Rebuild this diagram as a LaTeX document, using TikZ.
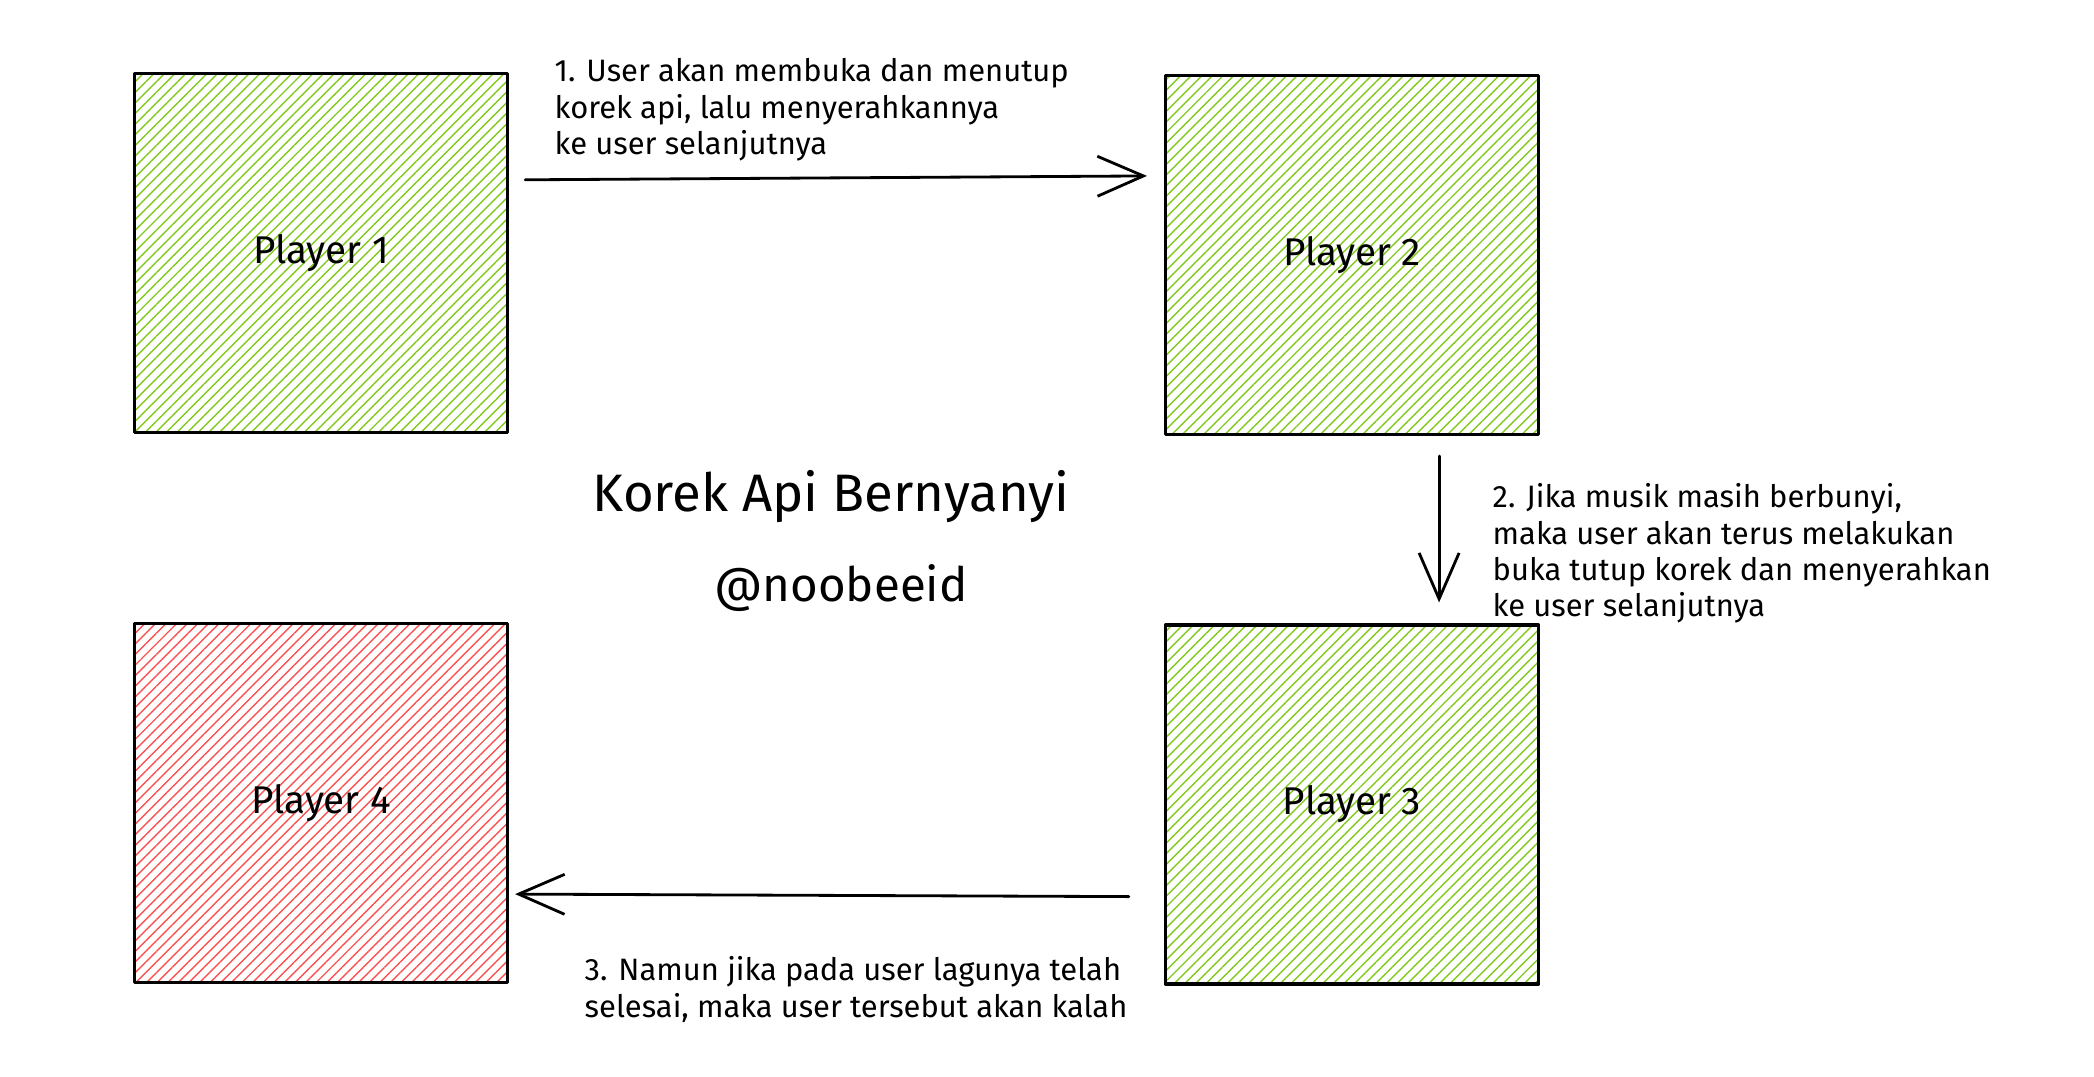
\documentclass[tikz,border=0pt]{standalone}
\usepackage{fontspec}
\setmainfont{Fira Sans}
\usetikzlibrary{arrows.meta,patterns.meta}
\definecolor{hachgreen}{HTML}{82C91E}
\definecolor{hachred}{HTML}{FA5252}
\begin{document}
\begin{tikzpicture}[line join=round, line cap=round,
	player/.style={draw=black, line width=0.9pt, minimum width=3.73cm, minimum height=3.59cm, inner sep=0pt, font=\fontsize{11pt}{13pt}\selectfont},
	safe/.style={pattern={Lines[angle=45,distance=0.075cm,line width=0.4pt]}, pattern color=hachgreen},
	lost/.style={pattern={Lines[angle=45,distance=0.075cm,line width=0.4pt]}, pattern color=hachred},
	note/.style={anchor=north west, align=left, inner sep=0pt, font=\fontsize{8.8pt}{10.3pt}\selectfont},
	flow/.style={line width=0.8pt, -{Straight Barb[length=4.6mm, width=4mm, line width=0.8pt]}}]
	\useasboundingbox (0,0) rectangle (20.94,-10.76);
	% the four players
	\node[player, safe] (p1) at (3.21,-2.53) {Player 1};
	\node[player, safe] (p2) at (13.52,-2.55) {Player 2};
	\node[player, safe] (p3) at (13.52,-8.045) {Player 3};
	\node[player, lost] (p4) at (3.21,-8.03) {Player 4};
	% title
	\node[font=\fontsize{15pt}{18pt}\selectfont] (title) at (8.31,-4.97) {Korek Api Bernyanyi};
	\node[font=\fontsize{13.5pt}{16pt}\selectfont] (author) at (8.41,-5.88) {@noobeeid};
	% steps
	\draw[flow] ([shift={(0.17,-1.07)}]p1.north east) -- ([shift={(-0.17,-1.02)}]p2.north west);
	\draw[flow] ([shift={(-1.01,-0.20)}]p2.south east) -- ([shift={(-1.01,0.21)}]p3.north east);
	\draw[flow] ([shift={(-0.35,0.89)}]p3.south west) -- ([shift={(0.06,0.90)}]p4.south east);
	\node[note] (step1) at (5.54,-0.58) {1. User akan membuka dan menutup\\korek api, lalu menyerahkannya\\ke user selanjutnya};
	\node[note] (step2) at (14.92,-4.83) {2. Jika musik masih berbunyi,\\maka user akan terus melakukan\\buka tutup korek dan menyerahkan\\ke user selanjutnya};
	\node[note] (step3) at (5.84,-9.56) {3. Namun jika pada user lagunya telah\\selesai, maka user tersebut akan kalah};
\end{tikzpicture}
\end{document}
